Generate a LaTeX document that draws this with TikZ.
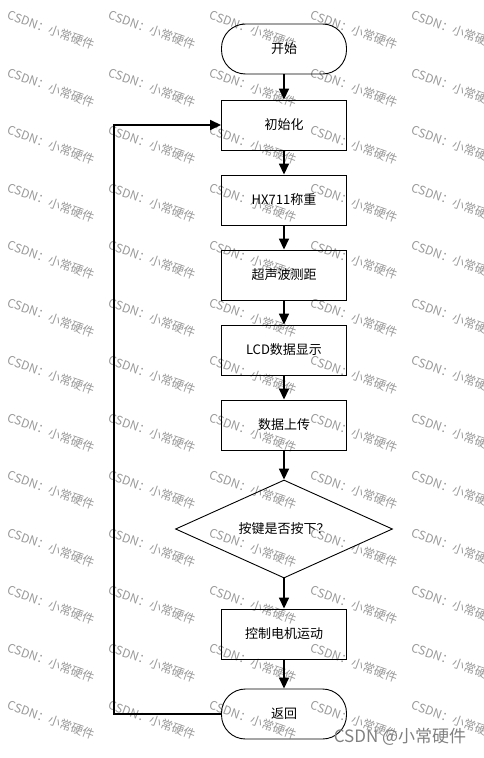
\documentclass[tikz,border=0pt]{standalone}
\usepackage{fontspec}
\setmainfont{Noto Sans CJK SC}
\usetikzlibrary{shapes.geometric,arrows.meta}

\begin{document}
\begin{tikzpicture}[
    x=1pt, y=-1pt,
    stepbox/.style={rectangle, draw, line width=0.9pt, minimum width=125pt, minimum height=50pt, align=center, font=\fontsize{13}{15}\selectfont},
    terminal/.style={stepbox, rounded corners=24pt},
    decision/.style={diamond, draw, line width=0.9pt, aspect=2.2, inner sep=0pt, minimum width=217pt, minimum height=98pt, font=\fontsize{13}{15}\selectfont},
    arrow/.style={->, >={Triangle[length=11pt, width=10pt]}, line width=1.6pt},
    mark text/.style={font=\fontsize{12}{14}\selectfont, text=black!40, rotate=-20, inner sep=0pt}
]
    \useasboundingbox (0,0) rectangle (484,758);

    % Wasserzeichen
    \begin{scope}
        \clip (0,0) rectangle (484,758);
        \foreach \i in {0,...,4} {
            \foreach \j in {0,...,12} {
                \node[mark text] (wm-\i-\j) at (51+101*\i, 30+57.5*\j) {CSDN：小常硬件};
            }
        }
    \end{scope}

    % Knoten
    \node[terminal] (start) at (284,49) {开始};
    \node[stepbox] (init) at (284,125) {初始化};
    \node[stepbox] (weigh) at (284,200) {HX711称重};
    \node[stepbox] (sonar) at (284,275) {超声波测距};
    \node[stepbox] (lcd) at (284,350) {LCD数据显示};
    \node[stepbox] (upload) at (284,425) {数据上传};
    \node[decision] (key) at (284,529) {按键是否按下？};
    \node[stepbox] (motor) at (284,634) {控制电机运动};
    \node[terminal] (back) at (284,714) {返回};
    \coordinate (loop) at (114,714);

    % Pfeile
    \draw[arrow] (start) -- (init);
    \draw[arrow] (init) -- (weigh);
    \draw[arrow] (weigh) -- (sonar);
    \draw[arrow] (sonar) -- (lcd);
    \draw[arrow] (lcd) -- (upload);
    \draw[arrow] (upload) -- (key);
    \draw[arrow] (key) -- (motor);
    \draw[arrow] (motor) -- (back);
    \draw[arrow] (back.west) -- (loop) |- (init.west);

    % Quelle
    \node[font=\fontsize{17}{19}\selectfont, text=black!50, inner sep=0pt] (source) at (400,737) {CSDN @小常硬件};
\end{tikzpicture}
\end{document}
